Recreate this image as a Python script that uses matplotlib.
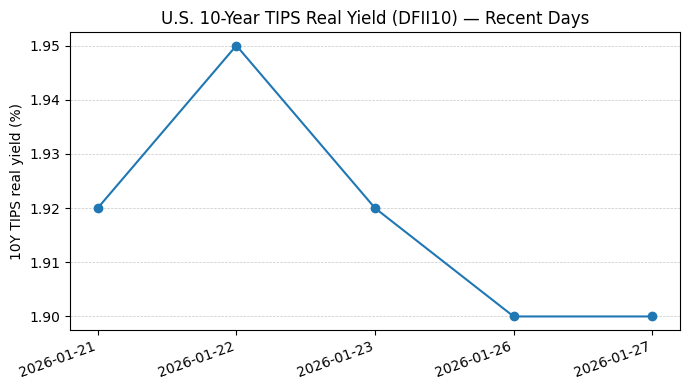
import matplotlib
matplotlib.use("Agg")
import matplotlib.pyplot as plt

dates = ["2026-01-21", "2026-01-22", "2026-01-23", "2026-01-26", "2026-01-27"]
values = [1.92, 1.95, 1.92, 1.90, 1.90]

fig = plt.figure(figsize=(6.9, 3.9), dpi=100)
ax = fig.add_axes([70/690, 1 - 330/390, 610/690, 298/390])
ax.plot(dates, values, marker="o", color="#1f77b4")
ax.set_title("U.S. 10-Year TIPS Real Yield (DFII10) — Recent Days")
ax.set_ylabel("10Y TIPS real yield (%)")
ax.grid(axis="y", linestyle="--", linewidth=0.5, alpha=0.7)
plt.setp(ax.get_xticklabels(), rotation=20, ha="right")
fig.savefig("out.png", dpi=100)
